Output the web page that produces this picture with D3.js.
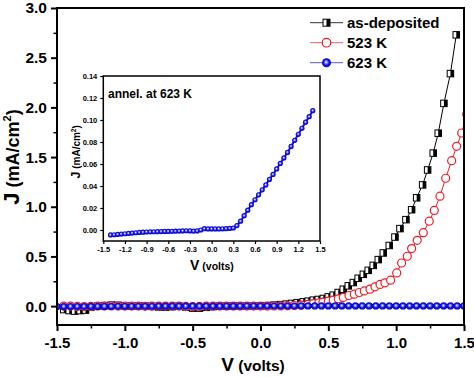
<!DOCTYPE html>
<html><head><meta charset="utf-8">
<script src="https://cdn.jsdelivr.net/npm/d3@7"></script>
<style>
body{margin:0;background:#fff}
svg{display:block}
</style>
</head><body>
<svg id="c" width="474" height="377"></svg>
<script>
// ---------- data ----------
const seriesNames = ["as-deposited", "523 K", "623 K"];
const xTicks = [-1.5, -1.0, -0.5, 0.0, 0.5, 1.0, 1.5];
const xMinor = [-1.25, -0.75, -0.25, 0.25, 0.75, 1.25];
const yTicks = [0.0, 0.5, 1.0, 1.5, 2.0, 2.5, 3.0];
const yMinor = [0.25, 0.75, 1.25, 1.75, 2.25, 2.75];
const insetXTicks = [-1.5, -1.2, -0.9, -0.6, -0.3, 0.0, 0.3, 0.6, 0.9, 1.2, 1.5];
const insetYTicks = [0.00, 0.02, 0.04, 0.06, 0.08, 0.10, 0.12, 0.14];
const insetNote = "annel. at 623 K";

// as-deposited
const asDepV = [-1.45,-1.41,-1.37,-1.33,-1.29,-1.25,-1.20,-1.15,-1.10,-1.05,-1.00,-0.95,-0.90,-0.85,-0.80,-0.75,-0.70,-0.65,-0.60,-0.55,-0.50,-0.45,-0.40,-0.35,-0.30,-0.25,-0.20,-0.15,-0.10,-0.05,0.00,0.05,0.10,0.15,0.19,0.23,0.27,0.315,0.352,0.389,0.426,0.463,0.50,0.536,0.573,0.61,0.647,0.684,0.72,0.758,0.794,0.831,0.868,0.905,0.949,0.991,1.028,1.072,1.114,1.151,1.195,1.232,1.273,1.31,1.352,1.40,1.443];
const asDepJ = [-0.035,-0.045,-0.05,-0.045,-0.04,-0.01,0.0,0.005,0.01,0.008,0.0,0.0,0.002,0.0,-0.003,-0.008,-0.01,-0.005,0.0,-0.01,-0.02,-0.02,-0.012,-0.005,0.0,0.0,0.002,0.0,0.0,0.0,0.002,0.005,0.01,0.015,0.02,0.027,0.035,0.043,0.05,0.06,0.067,0.077,0.093,0.11,0.137,0.17,0.204,0.237,0.28,0.32,0.36,0.41,0.468,0.535,0.61,0.695,0.78,0.87,0.97,1.09,1.22,1.37,1.54,1.74,2.04,2.34,2.73];

// 523 K
const k523V = [-1.45,-1.40,-1.35,-1.30,-1.25,-1.20,-1.15,-1.10,-1.05,-1.00,-0.95,-0.90,-0.85,-0.80,-0.75,-0.70,-0.65,-0.60,-0.55,-0.50,-0.45,-0.40,-0.35,-0.30,-0.25,-0.20,-0.15,-0.10,-0.05,0.00,0.05,0.10,0.15,0.20,0.25,0.30,0.35,0.39,0.43,0.46,0.50,0.536,0.573,0.61,0.652,0.691,0.728,0.765,0.807,0.844,0.881,0.917,0.959,1.004,1.04,1.082,1.114,1.155,1.20,1.244,1.281,1.323,1.365,1.409,1.446,1.483,1.52];
const k523J = [0,0,-0.003,-0.005,-0.003,0,0,0.002,0,0,0,0,-0.002,0,0,0,0,0,-0.003,-0.005,-0.003,0,0,0,0,0,0,0,0,0,0,0.001,0.002,0.003,0.006,0.01,0.017,0.025,0.033,0.04,0.05,0.06,0.073,0.087,0.107,0.12,0.137,0.153,0.171,0.194,0.218,0.234,0.261,0.334,0.434,0.502,0.579,0.662,0.739,0.855,0.963,1.106,1.287,1.464,1.608,1.742,1.93];

// 623 K (main panel)
const k623V = [-1.50,-1.45,-1.40,-1.35,-1.30,-1.25,-1.20,-1.15,-1.10,-1.05,-1.00,-0.95,-0.90,-0.85,-0.80,-0.75,-0.70,-0.65,-0.60,-0.55,-0.50,-0.45,-0.40,-0.35,-0.30,-0.25,-0.20,-0.15,-0.10,-0.05,0.00,0.05,0.10,0.15,0.20,0.25,0.30,0.35,0.40,0.45,0.50,0.55,0.60,0.65,0.70,0.75,0.80,0.85,0.90,0.95,1.00,1.05,1.10,1.15,1.20,1.25,1.30,1.35,1.40,1.45,1.50];
const k623J = [-0.005,-0.005,-0.004,-0.004,-0.004,-0.003,-0.003,-0.003,-0.003,-0.002,-0.002,-0.002,-0.002,-0.002,-0.002,-0.001,-0.001,-0.001,-0.001,-0.001,-0.001,-0.001,-0.001,-0.001,-0.001,-0.001,-0.001,0.0,0.001,0.001,0.001,0.001,0.001,0.001,0.001,0.001,0.002,0.002,0.002,0.002,0.002,0.002,0.002,0.002,0.002,0.002,0.002,0.002,0.002,0.002,0.002,0.002,0.002,0.002,0.002,0.002,0.002,0.002,0.002,0.002,0.002];

// inset: annealed at 623 K
const insetV = [-1.40,-1.35,-1.30,-1.25,-1.20,-1.15,-1.10,-1.05,-1.00,-0.95,-0.90,-0.85,-0.80,-0.75,-0.70,-0.65,-0.60,-0.55,-0.50,-0.45,-0.40,-0.35,-0.30,-0.25,-0.20,-0.15,-0.10,-0.05,0.00,0.05,0.10,0.15,0.20,0.25,0.30,0.35,0.40,0.45,0.50,0.55,0.60,0.65,0.70,0.75,0.80,0.85,0.90,0.95,1.00,1.05,1.10,1.15,1.20,1.25,1.30,1.35,1.40];
const insetJ = [-0.0045,-0.0043,-0.0040,-0.0037,-0.0034,-0.0031,-0.0028,-0.0025,-0.0022,-0.0020,-0.0018,-0.0017,-0.0016,-0.0015,-0.0014,-0.0013,-0.0013,-0.0012,-0.0011,-0.0010,-0.0008,-0.0007,-0.0008,-0.0010,-0.0008,0.0000,0.0012,0.0010,0.0010,0.0010,0.0010,0.0011,0.0012,0.0014,0.0018,0.0040,0.0080,0.0130,0.0180,0.0230,0.0275,0.0320,0.0365,0.0410,0.0460,0.0505,0.0555,0.0605,0.0655,0.0705,0.0760,0.0815,0.0870,0.0925,0.0980,0.1030,0.1085];

// ---------- drawing ----------
const FONT = '"Liberation Sans", Arial, Helvetica, sans-serif';
const RED = "#ec1c24", BLUE = "#1010e0";
const svg = d3.select("#c");
const defs = svg.append("defs");
const grad = defs.append("radialGradient").attr("id", "ball")
  .attr("cx", "50%").attr("cy", "50%").attr("r", "55%").attr("fx", "45%").attr("fy", "42%");
grad.append("stop").attr("offset", "0%").attr("stop-color", "#ffffff");
grad.append("stop").attr("offset", "28%").attr("stop-color", "#8a8aff");
grad.append("stop").attr("offset", "55%").attr("stop-color", "#1515ee");
grad.append("stop").attr("offset", "100%").attr("stop-color", "#0000b0");

const L = 57, R = 464, T = 8, B = 325;
const x = d3.scaleLinear().domain([-1.5, 1.5]).range([L, R]);
const y = d3.scaleLinear().domain([-0.19, 3.0]).range([B, T]);

defs.append("clipPath").attr("id", "clipMain").append("rect")
  .attr("x", L).attr("y", T).attr("width", R - L).attr("height", B - T);

const plot = svg.append("g").attr("clip-path", "url(#clipMain)");
const line = d3.line().x(d => x(d[0])).y(d => y(d[1]));

const asDep = asDepV.map((v, i) => [v, asDepJ[i]]);
const k523 = k523V.map((v, i) => [v, k523J[i]]);
const k623 = k623V.map((v, i) => [v, k623J[i]]);

function squareMarker(g, cx, cy, s) {
  g.append("rect").attr("x", cx - s / 2).attr("y", cy - s / 2).attr("width", s).attr("height", s)
    .attr("fill", "#fff").attr("stroke", "#000").attr("stroke-width", 1);
  g.append("rect").attr("x", cx).attr("y", cy - s / 2).attr("width", s / 2).attr("height", s)
    .attr("fill", "#000");
}

// as-deposited
plot.append("path").datum(asDep).attr("d", line).attr("fill", "none").attr("stroke", "#000").attr("stroke-width", 1);
const sq = plot.append("g");
asDep.forEach(d => squareMarker(sq, x(d[0]), y(d[1]), 6.5));

// 523 K
plot.append("path").datum(k523).attr("d", line).attr("fill", "none").attr("stroke", RED).attr("stroke-width", 1);
plot.append("g").selectAll("circle").data(k523).join("circle")
  .attr("cx", d => x(d[0])).attr("cy", d => y(d[1])).attr("r", 4)
  .attr("fill", "#fff").attr("stroke", RED).attr("stroke-width", 1.2);

// 623 K
plot.append("path").datum(k623).attr("d", line).attr("fill", "none").attr("stroke", BLUE).attr("stroke-width", 4);
plot.append("g").selectAll("circle").data(k623).join("circle")
  .attr("cx", d => x(d[0])).attr("cy", d => y(d[1])).attr("r", 3.6)
  .attr("fill", "url(#ball)");

// frame
svg.append("rect").attr("x", L).attr("y", T).attr("width", R - L).attr("height", B - T)
  .attr("fill", "none").attr("stroke", "#000").attr("stroke-width", 2);

// axes
function styleAxis(g, size) {
  g.select(".domain").remove();
  g.attr("font-family", FONT).attr("font-size", size).attr("font-weight", "bold");
  g.selectAll("line").attr("stroke", "#000");
  g.selectAll("text").attr("fill", "#000");
}
const gx = svg.append("g").attr("transform", `translate(0,${B})`)
  .call(d3.axisBottom(x).tickValues(xTicks).tickSize(6).tickSizeOuter(0).tickPadding(6).tickFormat(d => d.toFixed(1)));
styleAxis(gx, 15);
gx.selectAll("line").attr("stroke-width", 2);
const gxm = svg.append("g").attr("transform", `translate(0,${B})`)
  .call(d3.axisBottom(x).tickValues(xMinor).tickSize(3.5).tickSizeOuter(0).tickFormat(""));
styleAxis(gxm, 15);
gxm.selectAll("line").attr("stroke-width", 1.5);

const gy = svg.append("g").attr("transform", `translate(${L},0)`)
  .call(d3.axisLeft(y).tickValues(yTicks).tickSize(6).tickSizeOuter(0).tickPadding(4).tickFormat(d => d.toFixed(1)));
styleAxis(gy, 15.5);
gy.selectAll("line").attr("stroke-width", 2);
const gym = svg.append("g").attr("transform", `translate(${L},0)`)
  .call(d3.axisLeft(y).tickValues(yMinor).tickSize(3.5).tickSizeOuter(0).tickFormat(""));
styleAxis(gym, 15);
gym.selectAll("line").attr("stroke-width", 1.5);

// axis titles
const xt = svg.append("text").attr("x", 253).attr("y", 371).attr("text-anchor", "middle")
  .attr("font-family", FONT).attr("font-weight", "bold").attr("fill", "#000");
xt.append("tspan").attr("font-size", 19).text("V");
xt.append("tspan").attr("font-size", 15.5).text(" (volts)");

const yt = svg.append("text").attr("transform", "translate(19,157) rotate(-90)").attr("text-anchor", "middle")
  .attr("font-family", FONT).attr("font-weight", "bold").attr("fill", "#000");
yt.append("tspan").attr("font-size", 22).text("J");
yt.append("tspan").attr("font-size", 18).text(" (mA/cm");
yt.append("tspan").attr("font-size", 11).attr("dy", -8).text("2");
yt.append("tspan").attr("font-size", 18).attr("dy", 8).text(")");

// legend
const legend = svg.append("g").attr("font-family", FONT).attr("font-weight", "bold").attr("font-size", 15);
const legY = [22.7, 42.7, 62.7];
const legCol = ["#000", RED, BLUE];
seriesNames.forEach((name, i) => {
  const gy0 = legY[i];
  legend.append("line").attr("x1", 310).attr("x2", 343).attr("y1", gy0).attr("y2", gy0)
    .attr("stroke", legCol[i]).attr("stroke-width", 1).attr("opacity", i === 0 ? 0.8 : 0.7);
  if (i === 0) squareMarker(legend, 326.5, gy0, 7);
  else if (i === 1) legend.append("circle").attr("cx", 326.5).attr("cy", gy0).attr("r", 4.3)
    .attr("fill", "#fff").attr("stroke", RED).attr("stroke-width", 1.2);
  else legend.append("circle").attr("cx", 326.5).attr("cy", gy0).attr("r", 4.5).attr("fill", "url(#ball)");
  legend.append("text").attr("x", 347).attr("y", gy0).attr("dy", "0.36em").attr("fill", "#000").text(name);
});

// ---------- inset ----------
const iL = 103.3, iR = 320, iT = 76, iB = 241;
const xi = d3.scaleLinear().domain([-1.5, 1.5]).range([iL, iR]);
const yi = d3.scaleLinear().domain([-0.01, 0.14]).range([iB, iT]);
svg.append("rect").attr("x", iL).attr("y", iT).attr("width", iR - iL).attr("height", iB - iT)
  .attr("fill", "#fff").attr("stroke", "none");
const inset = insetV.map((v, i) => [v, insetJ[i]]);
const iline = d3.line().x(d => xi(d[0])).y(d => yi(d[1]));
svg.append("path").datum(inset).attr("d", iline).attr("fill", "none").attr("stroke", BLUE).attr("stroke-width", 2);
svg.append("g").selectAll("circle").data(inset).join("circle")
  .attr("cx", d => xi(d[0])).attr("cy", d => yi(d[1])).attr("r", 2.6).attr("fill", "url(#ball)");
svg.append("rect").attr("x", iL).attr("y", iT).attr("width", iR - iL).attr("height", iB - iT)
  .attr("fill", "none").attr("stroke", "#000").attr("stroke-width", 1.5);

const gix = svg.append("g").attr("transform", `translate(0,${iB})`)
  .call(d3.axisBottom(xi).tickValues(insetXTicks).tickSize(3).tickSizeOuter(0).tickPadding(3).tickFormat(d => d.toFixed(1)));
styleAxis(gix, 7.5);
gix.selectAll("line").attr("stroke-width", 1.2);
const giy = svg.append("g").attr("transform", `translate(${iL},0)`)
  .call(d3.axisLeft(yi).tickValues(insetYTicks).tickSize(3).tickSizeOuter(0).tickPadding(3).tickFormat(d => d.toFixed(2)));
styleAxis(giy, 7.5);
giy.selectAll("line").attr("stroke-width", 1.2);

const ixt = svg.append("text").attr("x", 212).attr("y", 270).attr("text-anchor", "middle")
  .attr("font-family", FONT).attr("font-weight", "bold").attr("fill", "#000");
ixt.append("tspan").attr("font-size", 14).text("V");
ixt.append("tspan").attr("font-size", 10.5).text(" (volts)");

const iyt = svg.append("text").attr("transform", "translate(80,152) rotate(-90)").attr("text-anchor", "middle")
  .attr("font-family", FONT).attr("font-weight", "bold").attr("fill", "#000");
iyt.append("tspan").attr("font-size", 13).text("J");
iyt.append("tspan").attr("font-size", 10).text(" (mA/cm");
iyt.append("tspan").attr("font-size", 6.5).attr("dy", -4).text("2");
iyt.append("tspan").attr("font-size", 10).attr("dy", 4).text(")");

svg.append("text").attr("x", 108).attr("y", 98).attr("font-family", FONT).attr("font-weight", "bold")
  .attr("font-size", 12).attr("fill", "#000").text(insetNote);
</script>
</body></html>
